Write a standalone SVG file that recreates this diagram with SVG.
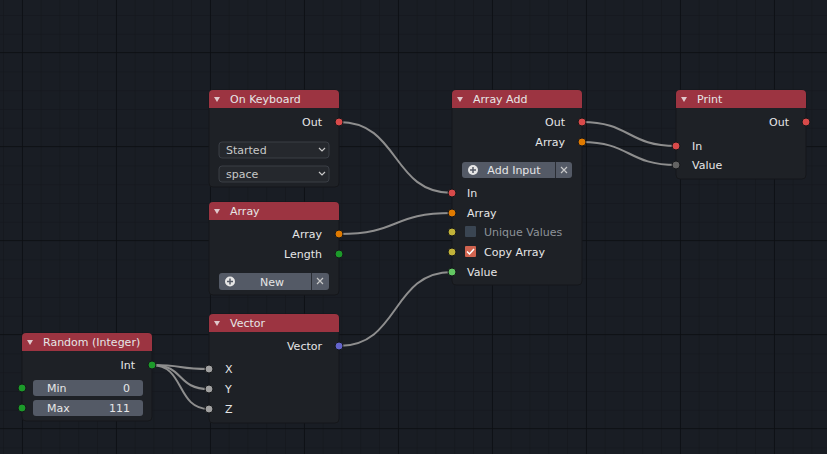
<svg xmlns="http://www.w3.org/2000/svg" width="827" height="454" viewBox="0 0 827 454">
<defs>
<pattern id="g" x="3" y="15" width="18.8" height="18.8" patternUnits="userSpaceOnUse"><path d="M0 0H18.8M0 0V18.8" stroke="#13161b" stroke-width="1.2" fill="none"/></pattern>
<pattern id="G" x="22" y="52" width="94" height="94" patternUnits="userSpaceOnUse"><path d="M0 0H94M0 0V94" stroke="#0c0e12" stroke-width="1.5" fill="none"/></pattern>
<style>
.b{fill:#1e2126;stroke:#15171a;stroke-width:1}
.h{fill:#9c3441}
.t{font-family:"DejaVu Sans",sans-serif;font-size:11px;fill:#e6e6e6}
.tr{text-anchor:end}
.tc{text-anchor:middle}
.dim{fill:#8d9299}
.tri{fill:#e0c8cc}
.f{fill:#545a66}
.dd{fill:#25282d;stroke:#3a3e45}
.l{fill:none;stroke:#8e8e8e;stroke-width:2}
.s{stroke:#15171a;stroke-width:1}
</style>
</defs>
<rect width="827" height="454" fill="#191d24"/>
<rect width="827" height="454" fill="url(#g)"/>
<rect width="827" height="454" fill="url(#G)"/>

<g id="connectors">
<path class="l" d="M339 122C400 122 391 193 452 193"/>
<path class="l" d="M339 234C400 234 391 213 452 213"/>
<path class="l" d="M339 346C400 346 391 272 452 272"/>
<path class="l" d="M582 122C630 122 628 146 676 146"/>
<path class="l" d="M582 142C630 142 628 165 676 165"/>
<path class="l" d="M152 365C185 365 176 369 209 369"/>
<path class="l" d="M152 365C185 365 176 389 209 389"/>
<path class="l" d="M152 365C185 365 176 409 209 409"/>
</g>

<g id="onkeyboard">
<rect class="b" x="209" y="90" width="130" height="97" rx="4"/>
<path class="h" d="M213 90H335A4 4 0 0 1 339 94V108H209V94A4 4 0 0 1 213 90Z"/>
<path class="tri" d="M214 97H220L217 102Z"/>
<text class="t" x="230" y="103">On Keyboard</text>
<text class="t tr" x="322" y="126">Out</text>
<rect class="dd" x="219" y="142" width="110" height="16" rx="3"/>
<text class="t" x="226" y="154" style="fill:#c8c8c8">Started</text>
<path d="M319 148l3 3 3-3" stroke="#c8c8c8" fill="none" stroke-width="1.2"/>
<rect class="dd" x="219" y="166" width="110" height="16" rx="3"/>
<text class="t" x="226" y="178" style="fill:#c8c8c8">space</text>
<path d="M319 172l3 3 3-3" stroke="#c8c8c8" fill="none" stroke-width="1.2"/>
<circle class="s" cx="339" cy="122" r="4" fill="#d84a4a"/>
</g>

<g id="array">
<rect class="b" x="209" y="202" width="130" height="93" rx="4"/>
<path class="h" d="M213 202H335A4 4 0 0 1 339 206V220H209V206A4 4 0 0 1 213 202Z"/>
<path class="tri" d="M214 209H220L217 214Z"/>
<text class="t" x="230" y="215">Array</text>
<text class="t tr" x="322" y="238">Array</text>
<text class="t tr" x="322" y="258">Length</text>
<rect class="f" x="219" y="273" width="110" height="17" rx="3"/>
<line x1="311.5" y1="273" x2="311.5" y2="290" stroke="#2a2d33"/>
<circle cx="230" cy="281.5" r="5" fill="#e6e6e6"/>
<path d="M227 281.5h6M230 278.5v6" stroke="#545a66" stroke-width="1.5"/>
<text class="t tc" x="272" y="285.5">New</text>
<path d="M317 278l6 6M323 278l-6 6" stroke="#c8c8c8" stroke-width="1.2"/>
<circle class="s" cx="339" cy="234" r="4" fill="#e07a00"/>
<circle class="s" cx="339" cy="254" r="4" fill="#1c9a2a"/>
</g>

<g id="vector">
<rect class="b" x="209" y="314" width="130" height="109" rx="4"/>
<path class="h" d="M213 314H335A4 4 0 0 1 339 318V332H209V318A4 4 0 0 1 213 314Z"/>
<path class="tri" d="M214 321H220L217 326Z"/>
<text class="t" x="230" y="327">Vector</text>
<text class="t tr" x="322" y="350">Vector</text>
<text class="t" x="225" y="373">X</text>
<text class="t" x="225" y="393">Y</text>
<text class="t" x="225" y="413">Z</text>
<circle class="s" cx="339" cy="346" r="4" fill="#6464cc"/>
<circle class="s" cx="209" cy="369" r="4" fill="#a0a0a0"/>
<circle class="s" cx="209" cy="389" r="4" fill="#a0a0a0"/>
<circle class="s" cx="209" cy="409" r="4" fill="#a0a0a0"/>
</g>

<g id="random">
<rect class="b" x="22" y="333" width="130" height="88" rx="4"/>
<path class="h" d="M26 333H148A4 4 0 0 1 152 337V351H22V337A4 4 0 0 1 26 333Z"/>
<path class="tri" d="M27 340H33L30 345Z"/>
<text class="t" x="43" y="346">Random (Integer)</text>
<text class="t tr" x="135" y="369">Int</text>
<rect class="f" x="33" y="380" width="110" height="16" rx="3"/>
<text class="t" x="47" y="392">Min</text>
<text class="t tr" x="130" y="392">0</text>
<rect class="f" x="33" y="400" width="110" height="16" rx="3"/>
<text class="t" x="47" y="412">Max</text>
<text class="t tr" x="130" y="412">111</text>
<circle class="s" cx="152" cy="365" r="4" fill="#1c9a2a"/>
<circle class="s" cx="22" cy="388" r="4" fill="#1c9a2a"/>
<circle class="s" cx="22" cy="408" r="4" fill="#1c9a2a"/>
</g>

<g id="arrayadd">
<rect class="b" x="452" y="90" width="130" height="195" rx="4"/>
<path class="h" d="M456 90H578A4 4 0 0 1 582 94V108H452V94A4 4 0 0 1 456 90Z"/>
<path class="tri" d="M457 97H463L460 102Z"/>
<text class="t" x="473" y="103">Array Add</text>
<text class="t tr" x="565" y="126">Out</text>
<text class="t tr" x="565" y="146">Array</text>
<rect class="f" x="462" y="162" width="110" height="16" rx="3"/>
<line x1="555.5" y1="162" x2="555.5" y2="178" stroke="#2a2d33"/>
<circle cx="473" cy="170" r="5" fill="#e6e6e6"/>
<path d="M470 170h6M473 167v6" stroke="#545a66" stroke-width="1.5"/>
<text class="t tc" x="514" y="174">Add Input</text>
<path d="M561 167l6 6M567 167l-6 6" stroke="#c8c8c8" stroke-width="1.2"/>
<text class="t" x="467" y="197">In</text>
<text class="t" x="467" y="217">Array</text>
<rect x="465" y="226" width="11" height="11" rx="1" fill="#3a4552"/>
<text class="t dim" x="484" y="236">Unique Values</text>
<rect x="465" y="246" width="11" height="11" rx="1" fill="#d0634f"/>
<path d="M467 251.5l2.5 2.5 4.5-5" stroke="#fff" stroke-width="1.5" fill="none"/>
<text class="t" x="484" y="256">Copy Array</text>
<text class="t" x="467" y="276">Value</text>
<circle class="s" cx="582" cy="122" r="4" fill="#d84a4a"/>
<circle class="s" cx="582" cy="142" r="4" fill="#e07a00"/>
<circle class="s" cx="452" cy="193" r="4" fill="#d84a4a"/>
<circle class="s" cx="452" cy="213" r="4" fill="#e07a00"/>
<circle class="s" cx="452" cy="232" r="4" fill="#c2b23a"/>
<circle class="s" cx="452" cy="252" r="4" fill="#c2b23a"/>
<circle class="s" cx="452" cy="272" r="4" fill="#63c763"/>
</g>

<g id="print">
<rect class="b" x="676" y="90" width="130" height="89" rx="4"/>
<path class="h" d="M680 90H802A4 4 0 0 1 806 94V108H676V94A4 4 0 0 1 680 90Z"/>
<path class="tri" d="M681 97H687L684 102Z"/>
<text class="t" x="697" y="103">Print</text>
<text class="t tr" x="789" y="126">Out</text>
<text class="t" x="692" y="150">In</text>
<text class="t" x="692" y="169">Value</text>
<circle class="s" cx="806" cy="122" r="4" fill="#d84a4a"/>
<circle class="s" cx="676" cy="146" r="4" fill="#d84a4a"/>
<circle class="s" cx="676" cy="165" r="4" fill="#636363"/>
</g>
</svg>
